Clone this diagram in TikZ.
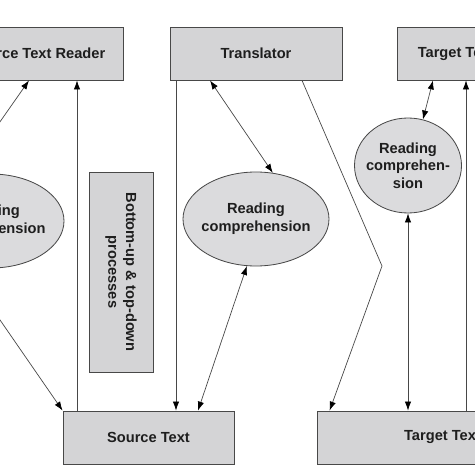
\documentclass[tikz,border=0pt]{standalone}
\usepackage{fontspec}
\setmainfont{Liberation Sans}
\usetikzlibrary{shapes.geometric,arrows.meta}
\definecolor{boxgray}{RGB}{212,212,214}
\definecolor{ellgray}{RGB}{219,219,221}
\definecolor{linegray}{RGB}{72,72,72}
\definecolor{inkgray}{RGB}{30,30,30}

\begin{document}
\begin{tikzpicture}[
  x=0.3mm,
  y=-0.3mm,
  every node/.style={font=\fontsize{12.5}{15}\selectfont\bfseries, text=inkgray},
  box/.style={draw=linegray, fill=boxgray, line width=0.7pt, minimum height=15.9mm, inner sep=0pt},
  blob/.style={ellipse, draw=linegray, fill=ellgray, line width=0.7pt, align=center, inner sep=0pt, inner xsep=-1.6mm},
  link/.style={draw=linegray, line width=0.6pt},
  oneway/.style={-{Latex[length=2.7mm,width=1.9mm,color=black]}},
  twoway/.style={{Latex[length=2.7mm,width=1.9mm,color=black]}-{Latex[length=2.7mm,width=1.9mm,color=black]}}
]
  % Frame: the reference is a crop, so text runs off the edges.
  \useasboundingbox (0,0) rectangle (474,474);

  % Top row.
  \node[box, minimum width=51.6mm] (str) at (37,53.5) {Source Text Reader};
  \node[box, minimum width=51.6mm] (tr) at (256,53.5) {Translator};
  \node[box, minimum width=51.6mm] (ttr) at (483,53.5) {Target Text Reader};

  % Bottom row.
  \node[box, minimum width=51.3mm] (st) at (148.5,437.5) {Source Text};
  \node[box, minimum width=75.3mm] (tt) at (442.5,437.5) {Target Text};

  % Comprehension ellipses.
  \node[blob, minimum width=43.8mm, minimum height=28.2mm] (rcl) at (-9,221) {Reading\\comprehension};
  \node[blob, minimum width=43.8mm, minimum height=28.2mm] (rcm) at (256,219) {Reading\\comprehension};
  \node[blob, minimum width=32.1mm, minimum height=28.5mm] (rcr) at (408,165.5) {Reading\\comprehen-\\sion};

  % Processes bar.
  \node[box, rotate=-90, minimum width=60mm, minimum height=19.2mm, align=center] (bu) at (121,272) {Bottom-up \& top-down\\processes};

  % Source side.
  \draw[link, oneway] (rcl.125) -- ([xshift=-2.4mm]str.south);
  \draw[link, oneway] (rcl.-124) -- (st.north west);
  \draw[link, oneway] ([xshift=-21.45mm]st.north) -- ([xshift=-21.45mm]st.north |- str.south);

  % Translator.
  \draw[link, oneway] ([xshift=-24mm]tr.south) -- ([xshift=-24mm]tr.south |- st.north);
  \draw[link, twoway] ([xshift=-13.8mm]tr.south) -- (rcm.70);
  \draw[link, twoway] (rcm.-101) -- ([xshift=14.85mm]st.north);
  \coordinate (kink) at (382,266);
  \draw[link, oneway] ([xshift=13.8mm]tr.south) -- (kink) -- ([xshift=3.9mm]tt.north west);

  % Target side.
  \draw[link, twoway] ([xshift=-15mm]ttr.south) -- (rcr.72);
  \draw[link, twoway] (rcr.south) -- (rcr.south |- tt.north);
  \draw[link, oneway] ([xshift=7.05mm]tt.north) -- ([xshift=7.05mm]tt.north |- ttr.south);
\end{tikzpicture}
\end{document}
